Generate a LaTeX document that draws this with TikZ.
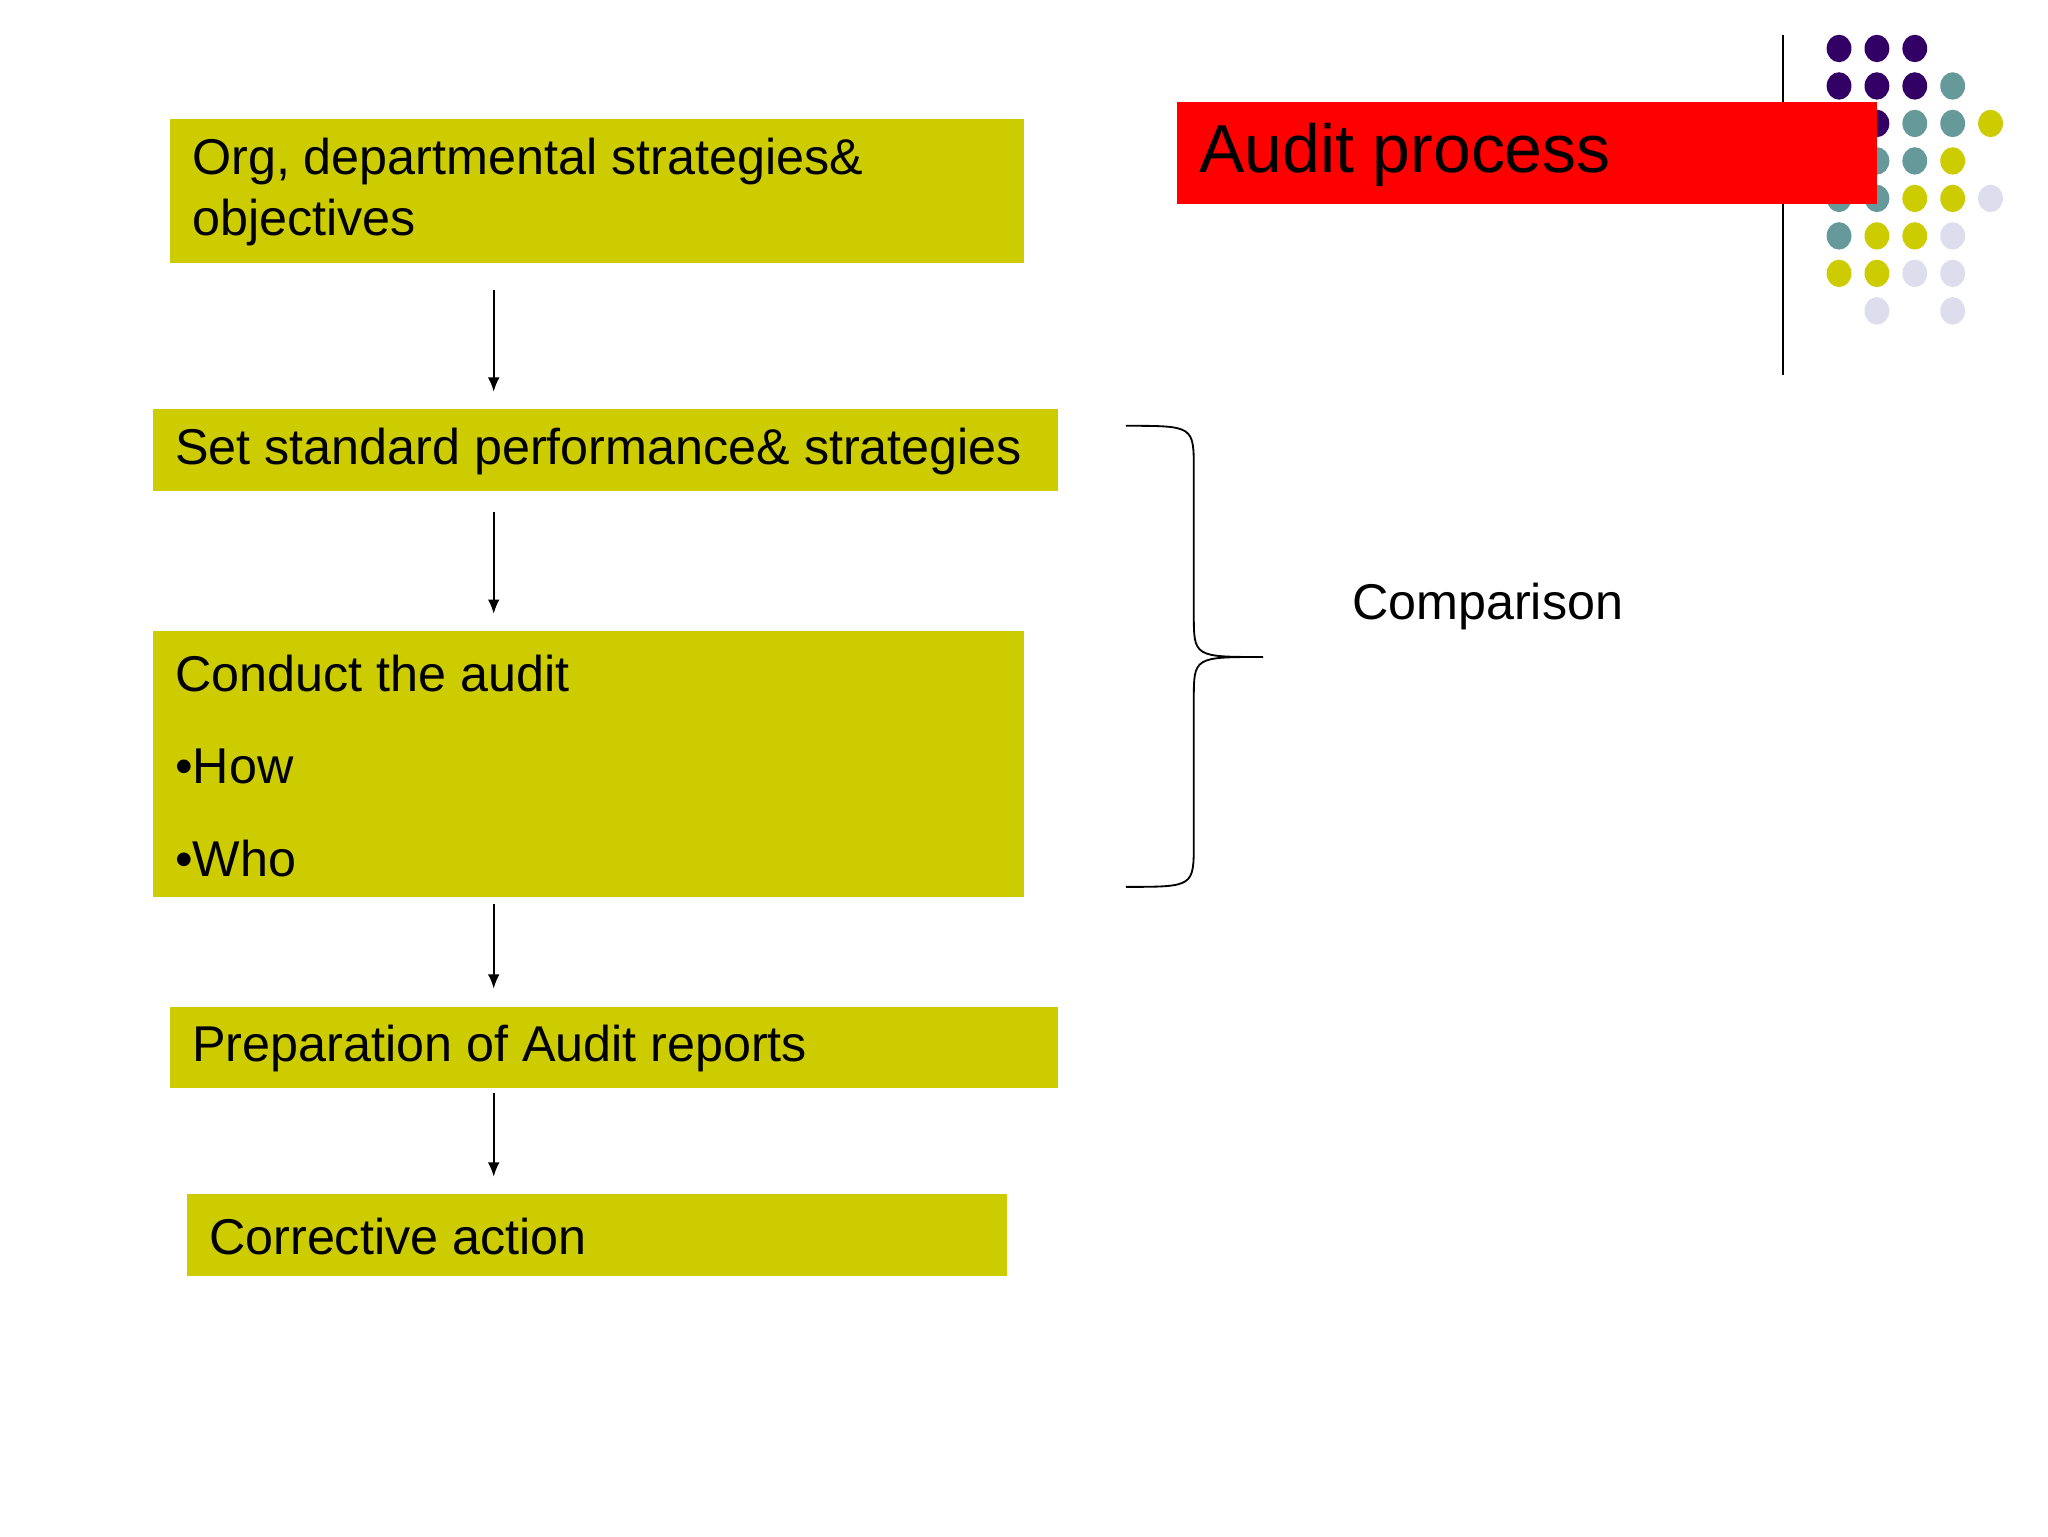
\documentclass[tikz,border=0pt]{standalone}
\usepackage{fontspec}
\setmainfont{Liberation Sans}
\usetikzlibrary{arrows.meta}
\begin{document}
\begin{tikzpicture}[x=1pt,y=-1pt,
  txt/.style={anchor=west,inner sep=0pt,font=\fontsize{38.5}{45}\selectfont},
  arr/.style={-{Latex[length=11pt,width=9pt]},line width=1.6pt}]
\definecolor{boxy}{HTML}{CCCC00}
\definecolor{pur}{HTML}{330066}
\definecolor{teal}{HTML}{669999}
\definecolor{lav}{HTML}{DDDDEE}
\useasboundingbox (0,0) rectangle (1568,1176);
\fill[white] (0,0) rectangle (1568,1176);
% dots
\foreach \c/\r/\col in {1/1/pur,2/1/pur,3/1/pur,
 1/2/pur,2/2/pur,3/2/pur,4/2/teal,
 1/3/teal,2/3/pur,3/3/teal,4/3/teal,5/3/boxy,
 1/4/teal,2/4/teal,3/4/teal,4/4/boxy,
 1/5/teal,2/5/teal,3/5/boxy,4/5/boxy,5/5/lav,
 1/6/teal,2/6/boxy,3/6/boxy,4/6/lav,
 1/7/boxy,2/7/boxy,3/7/lav,4/7/lav,
 2/8/lav,4/8/lav}
 \fill[\col] ({1379+29*\c},{8.4+28.7*\r}) ellipse [x radius=9.5,y radius=10.5];
\draw[line width=1.5pt] (1365,27) -- (1365,287);
% title
\fill[red] (901,78) rectangle (1437,156);
\node[txt,font=\fontsize{52}{60}\selectfont] (title) at (918,119) {Audit process};
% boxes
\fill[boxy] (130,91) rectangle (784,201);
\node[txt,align=left,font=\fontsize{38.5}{46}\selectfont] (t1) at (147,147) {Org, departmental strategies\&\\objectives};
\fill[boxy] (117,313) rectangle (810,376);
\node[txt] (t2) at (134,346) {Set standard performance\& strategies};
\fill[boxy] (117,483) rectangle (784,687);
\node[txt] (t3) at (134,516) {Conduct the audit};
\node[txt] (t3b) at (134,587) {•How};
\node[txt] (t3c) at (134,657) {•Who};
\fill[boxy] (130,771) rectangle (810,833);
\node[txt] (t4) at (147,803) {Preparation of Audit reports};
\fill[boxy] (143,914) rectangle (771,977);
\node[txt] (t5) at (160,947) {Corrective action};
% arrows
\coordinate (a1) at (378,222); \coordinate (b1) at (378,300);
\coordinate (a2) at (378,392); \coordinate (b2) at (378,470);
\coordinate (a3) at (378,692); \coordinate (b3) at (378,757);
\coordinate (a4) at (378,837); \coordinate (b4) at (378,901);
\draw[arr] (a1) -- (b1);
\draw[arr] (a2) -- (b2);
\draw[arr] (a3) -- (b3);
\draw[arr] (a4) -- (b4);
% brace
\coordinate (bt) at (862,326); \coordinate (bb) at (862,679); \coordinate (bm) at (967,503);
\draw[line width=1.4pt] (bt) .. controls (914,326) .. (914,360) -- (914,470)
  .. controls (914,503) .. (bm) .. controls (914,503) .. (914,536) -- (914,645)
  .. controls (914,679) .. (bb);
\node[txt] (cmp) at (1035,464) {Comparison};
\end{tikzpicture}
\end{document}
